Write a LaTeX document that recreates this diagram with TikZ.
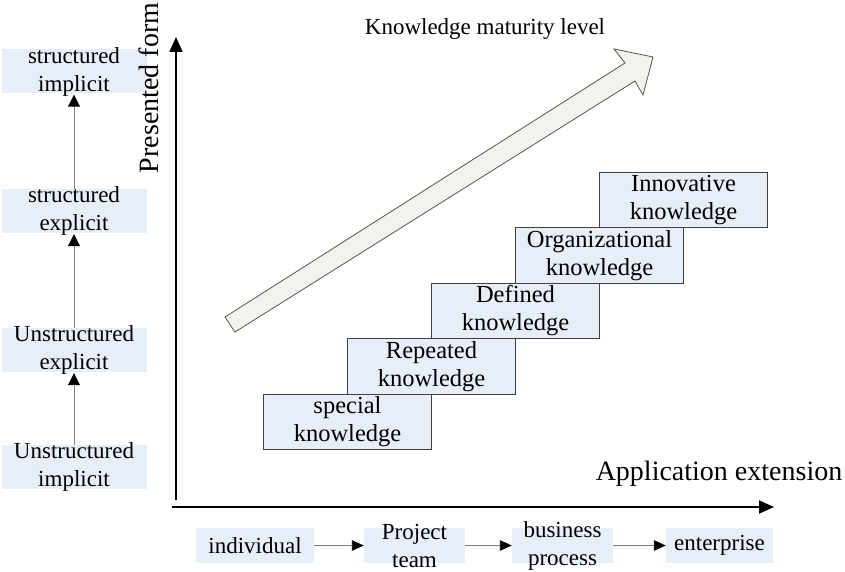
\documentclass[tikz,border=0pt]{standalone}
\usepackage{fontspec}
\setmainfont{Liberation Serif}
\usetikzlibrary{arrows.meta}
\definecolor{boxfill}{HTML}{E8EEF7}
\definecolor{stepborder}{HTML}{404040}
\definecolor{arrowgray}{HTML}{7F7F7F}
\definecolor{bigfill}{HTML}{F2F3EC}
\definecolor{bigborder}{HTML}{555555}
\begin{document}
\begin{tikzpicture}[x=1pt,y=-1pt,
  lbox/.style={fill=boxfill, draw=none, minimum width=145pt, minimum height=44pt, inner sep=0pt},
  txt/.style={font=\fontsize{23}{28}\selectfont, align=center, inner sep=0pt},
  stepbox/.style={fill=boxfill, draw=stepborder, line width=0.8pt, minimum width=168.5pt, minimum height=55.5pt, inner sep=0pt},
  steptxt/.style={font=\fontsize{24.5}{28}\selectfont, align=center, inner sep=0pt},
  bbox/.style={fill=boxfill, draw=none, minimum height=35pt, inner sep=0pt},
  uparrow/.style={draw=arrowgray, line width=0.9pt, -{Triangle[length=12pt,width=12pt,color=black]}},
  sidearrow/.style={draw=arrowgray, line width=0.9pt, -{Triangle[length=12pt,width=10.5pt,color=black]}},
  axis/.style={line width=1.8pt, -{Triangle[length=15pt,width=13pt]}},
  axislabel/.style={font=\fontsize{28}{32}\selectfont, inner sep=0pt}
]
\path[use as bounding box, fill=white] (0,0) rectangle (845,572);

% left column
\node[lbox] (b1) at (74,71.5) {};
\node[lbox] (b2) at (74,211) {};
\node[lbox] (b3) at (74,350) {};
\node[lbox] (b4) at (74,467) {};
\node[txt] (t1) at (b1.center) {structured\\implicit};
\node[txt] (t2) at (b2.center) {structured\\explicit};
\node[txt] (t3) at (b3.center) {Unstructured\\explicit};
\node[txt] (t4) at (b4.center) {Unstructured\\implicit};
\draw[uparrow] (b4.north) -- ([yshift=-1pt]b3.south);
\draw[uparrow] (b3.north) -- ([yshift=-1pt]b2.south);
\draw[uparrow] (b2.north) -- ([yshift=-1pt]b1.south);

% axes
\coordinate (yo) at (176,500);
\coordinate (yt) at (176,37);
\coordinate (xo) at (172,507);
\coordinate (xt) at (774,507);
\draw[axis] (yo) -- (yt);
\draw[axis] (xo) -- (xt);
\node[axislabel, rotate=90, anchor=base] (ylab) at (158,88) {Presented form};
\node[axislabel, anchor=base] (xlab) at (719,480) {Application extension};
\node[font=\fontsize{23}{28}\selectfont, inner sep=0pt, anchor=base] (title) at (485,35) {Knowledge maturity level};

% big arrow
\draw[fill=bigfill, draw=bigborder, line width=0.8pt, line join=miter]
  (225,317) -- (625,63) -- (614,49) -- (653,57) -- (643,95) -- (635,81) -- (235,332) -- cycle;

% steps
\node[stepbox] (s1) at (347.5,422) {};
\node[stepbox] (s2) at (431.5,366.5) {};
\node[stepbox] (s3) at (515.5,311) {};
\node[stepbox] (s4) at (599.5,255.5) {};
\node[stepbox] (s5) at (683.5,200) {};
\node[steptxt] at (s1.center) {special\\knowledge};
\node[steptxt] at (s2.center) {Repeated\\knowledge};
\node[steptxt] at (s3.center) {Defined\\knowledge};
\node[steptxt] at (s4.center) {Organizational\\knowledge};
\node[steptxt] at (s5.center) {Innovative\\knowledge};

% bottom row
\node[bbox, minimum width=118pt] (c1) at (255,545.5) {};
\node[bbox, minimum width=101pt] (c2) at (414.5,545.5) {};
\node[bbox, minimum width=101pt] (c3) at (562.5,545.5) {};
\node[bbox, minimum width=107pt] (c4) at (719.5,545.5) {};
\node[txt] at (c1.center) {individual};
\node[txt] at (c2.center) {Project\\team};
\node[txt] at (c3.center) {business\\process};
\node[txt] at (c4.center) {enterprise};
\draw[sidearrow] (c1.east) -- (c2.west);
\draw[sidearrow] (c2.east) -- (c3.west);
\draw[sidearrow] (c3.east) -- (c4.west);
\end{tikzpicture}
\end{document}
